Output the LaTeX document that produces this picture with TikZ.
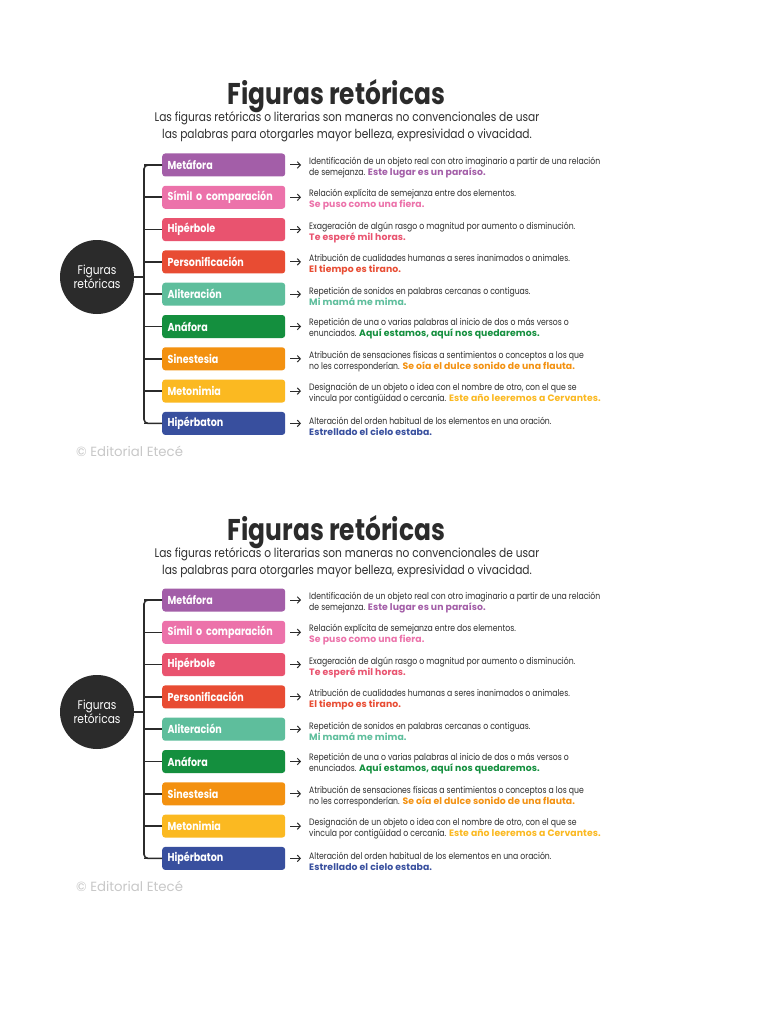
\documentclass[tikz,border=0pt]{standalone}
\usepackage{fontspec}
\setmainfont{Poppins}
\newfontfamily\titlefont[FakeStretch=0.83]{Poppins}
\newfontfamily\subfont[FakeStretch=0.85]{Poppins}
\newfontfamily\descfont[FakeStretch=0.83]{Poppins}
\newfontfamily\exfont[LetterSpace=0.8]{Poppins}
\newfontfamily\boxfont[FakeStretch=0.83]{Poppins}
\newfontfamily\copyfont{Poppins}
\usetikzlibrary{arrows.meta}
\definecolor{ink}{HTML}{2B2B2B}
\definecolor{txt}{HTML}{2E2E2E}
\definecolor{copy}{HTML}{C8C8C8}
\definecolor{cMet}{HTML}{A35EA8}
\definecolor{cSim}{HTML}{EC72AA}
\definecolor{cHip}{HTML}{E9536F}
\definecolor{cPer}{HTML}{E84C33}
\definecolor{cAli}{HTML}{5EBE9C}
\definecolor{cAna}{HTML}{148F3E}
\definecolor{cSin}{HTML}{F39110}
\definecolor{cMeto}{HTML}{FBB921}
\definecolor{cHipb}{HTML}{384F9E}
\tikzset{
  titletext/.style={anchor=base, inner sep=0pt, text=ink, font=\titlefont\bfseries\fontsize{30}{32}\selectfont},
  subtext/.style={anchor=base, inner sep=0pt, text=txt, align=center, font=\subfont\fontsize{12.5}{17}\selectfont},
  hub/.style={circle, fill=ink, minimum size=74pt, inner sep=0pt, text=white, align=center, font=\subfont\fontsize{12.5}{13.5}\selectfont},
  catbox/.style={anchor=west, rounded corners=3pt, text=white, minimum height=23pt, inner ysep=0pt, inner xsep=5.5pt, text width=112pt, align=left, font=\boxfont\bfseries\fontsize{11.5}{12}\selectfont},
  desc/.style={anchor=west, inner sep=0pt, yshift=-2.5pt, text=txt, align=left, font=\descfont\fontsize{9.3}{11}\selectfont},
  branch/.style={draw=ink, line width=1.6pt},
  catarrow/.style={draw=ink, line width=1pt, -{Straight Barb[length=3pt,width=6.5pt]}, shorten <=5pt, shorten >=8pt},
  copytext/.style={anchor=base west, inner sep=0pt, text=copy, font=\copyfont\fontsize{13.3}{14}\selectfont}
}
\newcommand\ex[2]{\textcolor{#1}{\exfont\bfseries #2}}
% #1 prefix, #2 index, #3 y, #4 colour, #5 label, #6 description
\newcommand\rowitem[6]{%
  \node[catbox, fill=#4] (#1b#2) at (162,#3) {#5};
  \node[desc] (#1d#2) at (309,#3) {#6};
  \draw[catarrow] (#1b#2.east) -- (#1b#2.east -| #1d#2.west);
  \draw[branch] (#1b#2.west) -- (#1b#2.west -| #1j);
}
\newcommand\drawdiagram[2]{%
\begin{scope}[yshift=-#1pt]
  \node[titletext] (#2title) at (336.5,105) {Figuras retóricas};
  \node[subtext] (#2sub) at (347,139) {Las figuras retóricas o literarias son maneras no convencionales de usar\\las palabras para otorgarles mayor belleza, expresividad o vivacidad.};
  \node[hub] (#2hub) at (97,277) {Figuras\\retóricas};
  \coordinate (#2j) at (144,277);
  \rowitem{#2}{1}{165}{cMet}{Metáfora}{Identificación de un objeto real con otro imaginario a partir de una relación\\de semejanza. \ex{cMet}{Este lugar es un paraíso.}}
  \rowitem{#2}{2}{197.3}{cSim}{Símil o comparación}{Relación explícita de semejanza entre dos elementos.\\\ex{cSim}{Se puso como una fiera.}}
  \rowitem{#2}{3}{229.6}{cHip}{Hipérbole}{Exageración de algún rasgo o magnitud por aumento o disminución.\\\ex{cHip}{Te esperé mil horas.}}
  \rowitem{#2}{4}{261.9}{cPer}{Personificación}{Atribución de cualidades humanas a seres inanimados o animales.\\\ex{cPer}{El tiempo es tirano.}}
  \rowitem{#2}{5}{294.2}{cAli}{Aliteración}{Repetición de sonidos en palabras cercanas o contiguas.\\\ex{cAli}{Mi mamá me mima.}}
  \rowitem{#2}{6}{326.5}{cAna}{Anáfora}{Repetición de una o varias palabras al inicio de dos o más versos o\\enunciados. \ex{cAna}{Aquí estamos, aquí nos quedaremos.}}
  \rowitem{#2}{7}{358.8}{cSin}{Sinestesia}{Atribución de sensaciones físicas a sentimientos o conceptos a los que\\no les corresponderían. \ex{cSin}{Se oía el dulce sonido de una flauta.}}
  \rowitem{#2}{8}{391.1}{cMeto}{Metonimia}{Designación de un objeto o idea con el nombre de otro, con el que se\\vincula por contigüidad o cercanía. \ex{cMeto}{Este año leeremos a Cervantes.}}
  \rowitem{#2}{9}{423.4}{cHipb}{Hipérbaton}{Alteración del orden habitual de los elementos en una oración.\\\ex{cHipb}{Estrellado el cielo estaba.}}
  \draw[branch, rounded corners=4pt] (#2b1.west) -| (#2j) |- (#2b9.west);
  \draw[branch] (#2hub) -- (#2j);
  \node[copytext] (#2copy) at (76,456) {© Editorial Etecé};
\end{scope}}
\begin{document}
\begin{tikzpicture}[x=1pt, y=-1pt]
  \fill[white] (0,0) rectangle (768,1024);
  \useasboundingbox (0,0) rectangle (768,1024);
  \drawdiagram{0}{t}
  \drawdiagram{435}{u}
\end{tikzpicture}
\end{document}
